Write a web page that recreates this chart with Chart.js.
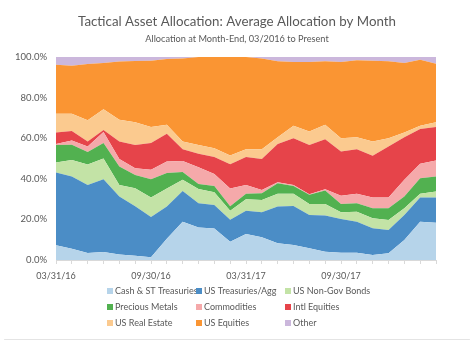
<!DOCTYPE html>
<html>
<head>
<meta charset="utf-8">
<script src="https://cdn.jsdelivr.net/npm/chart.js@4.4.1/dist/chart.umd.min.js"></script>
<style>
  html, body { margin: 0; padding: 0; background: #fff; }
  #wrap { position: relative; width: 474px; height: 345px; }
  #edge { position: absolute; left: 4px; right: 4px; top: 339px; height: 1px; background: #e4e4e4; border-radius: 1px; }
</style>
</head>
<body>
<div id="wrap">
  <canvas id="myChart" width="474" height="345"></canvas>
  <div id="edge"></div>
</div>
<script>
// month-end dates, 03/2016 .. 03/2018
var months = ['03/31/16','04/30/16','05/31/16','06/30/16','07/31/16','08/31/16','09/30/16','10/31/16','11/30/16','12/31/16',
              '01/31/17','02/28/17','03/31/17','04/30/17','05/31/17','06/30/17','07/31/17','08/31/17','09/30/17','10/31/17',
              '11/30/17','12/31/17','01/31/18','02/28/18','03/31/18'];
var shownTicks = ['03/31/16','09/30/16','03/31/17','09/30/17'];

// allocation in % per month
var cash       = [7.3, 5.6, 3.5, 3.9, 2.7, 2.1, 1.4, 10.5, 18.9, 16.0, 15.5, 9.0, 12.8, 11.2, 8.2, 7.4, 5.8, 4.1, 3.6, 3.6, 2.5, 3.3, 9.9, 18.9, 18.4];
var treasuries = [35.8, 35.5, 33.5, 35.9, 28.6, 24.4, 19.8, 15.8, 15.1, 12.0, 11.6, 10.8, 11.5, 12.3, 18.1, 19.2, 16.4, 17.8, 16.6, 15.3, 13.1, 11.5, 12.3, 11.9, 12.4];
var nonGov     = [4.9, 8.2, 10.0, 10.2, 5.7, 8.9, 9.6, 8.9, 5.5, 7.0, 6.3, 4.4, 5.6, 6.1, 6.3, 6.0, 5.4, 5.7, 3.3, 4.9, 5.0, 4.9, 3.3, 1.8, 2.9];
var metals     = [8.6, 7.5, 6.2, 7.6, 9.0, 6.5, 9.0, 7.6, 3.8, 2.5, 3.1, 2.3, 2.7, 3.3, 5.2, 3.9, 4.5, 6.6, 4.1, 4.2, 4.9, 5.8, 5.8, 7.7, 7.4];
var commod     = [0.6, 2.1, 2.7, 5.4, 3.7, 3.3, 4.6, 5.7, 5.5, 8.2, 5.9, 8.7, 4.4, 1.6, 0.5, 0.5, 0.3, 0.6, 4.0, 4.6, 5.3, 5.3, 8.2, 7.1, 7.9];
var intlEq     = [5.6, 4.7, 2.5, 1.1, 8.7, 11.5, 13.2, 13.7, 5.8, 6.6, 8.3, 12.0, 13.7, 15.2, 18.9, 23.0, 24.3, 24.7, 21.9, 22.0, 20.5, 25.1, 21.0, 17.1, 16.5];
var realEstate = [9.2, 8.4, 10.4, 10.2, 10.7, 11.1, 7.9, 4.4, 3.8, 4.4, 4.4, 4.3, 3.9, 4.9, 3.3, 6.1, 6.6, 7.1, 6.5, 5.9, 7.1, 4.1, 2.3, 1.6, 2.3];
var usEq       = [24.2, 23.7, 27.7, 22.7, 28.7, 30.2, 32.7, 32.4, 40.8, 43.3, 44.9, 48.5, 45.4, 44.6, 37.4, 31.4, 34.2, 31.3, 37.5, 37.9, 39.8, 37.9, 34.2, 32.6, 28.9];
var other      = [3.8, 4.3, 3.5, 3.0, 2.2, 2.0, 1.8, 1.0, 0.8, 0.0, 0.0, 0.0, 0.0, 0.8, 2.1, 2.5, 2.5, 2.1, 2.5, 1.6, 1.8, 2.1, 3.0, 1.3, 3.3];

var names  = ['Cash & ST Treasuries','US Treasuries/Agg','US Non-Gov Bonds','Precious Metals','Commodities','Intl Equities','US Real Estate','US Equities','Other'];
var series = [cash, treasuries, nonGov, metals, commod, intlEq, realEstate, usEq, other];
var colors = ['#b6d4ea','#4b8dc6','#c3e3a6','#52b150','#f5a9aa','#e6444a','#fbca8f','#fa9533','#cbb7dc'];

var textColor = '#595959';
var fontName = 'Lato, "Open Sans", sans-serif';

var datasets = [];
for (var i = 0; i < series.length; i++) {
    datasets.push({
        label: names[i],
        data: series[i],
        backgroundColor: colors[i],
        borderColor: colors[i],
        borderWidth: 0,
        pointRadius: 0,
        pointHoverRadius: 0,
        tension: 0,
        fill: i == 0 ? 'origin' : '-1'
    });
}

// legend laid out as a 3-column grid under the axis
var gridLegend = {
    id: 'gridLegend',
    afterDraw: function(chart) {
        var ctx = chart.ctx;
        var cols = [107, 196, 285];
        var rows = [291, 307, 323];
        ctx.save();
        ctx.font = '9px ' + fontName;
        ctx.textBaseline = 'middle';
        for (var i = 0; i < names.length; i++) {
            var x = cols[i % 3];
            var y = rows[Math.floor(i / 3)];
            ctx.fillStyle = colors[i];
            ctx.fillRect(x, y - 3, 6, 6);
            ctx.fillStyle = textColor;
            ctx.fillText(names[i], x + 8, y + 0.5);
        }
        ctx.restore();
    }
};

var ctx = document.getElementById('myChart').getContext('2d');
var chart = new Chart(ctx, {
    type: 'line',
    data: { labels: months, datasets: datasets },
    plugins: [gridLegend],
    options: {
        responsive: false,
        animation: false,
        events: [],
        layout: { padding: 0 },
        plugins: {
            legend: { display: false },
            tooltip: { enabled: false },
            title: {
                display: true,
                text: 'Tactical Asset Allocation: Average Allocation by Month',
                color: textColor,
                font: { family: fontName, size: 13.3, weight: 'normal' },
                padding: { top: 14, bottom: 0 }
            },
            subtitle: {
                display: true,
                text: 'Allocation at Month-End, 03/2016 to Present',
                color: textColor,
                font: { family: fontName, size: 9.2 },
                padding: { top: 4, bottom: 12 }
            }
        },
        scales: {
            x: {
                offset: false,
                grid: { drawOnChartArea: false, drawTicks: true, tickLength: 4, color: '#d9d9d9' },
                border: { color: '#d9d9d9' },
                ticks: {
                    autoSkip: false,
                    maxRotation: 0,
                    padding: 7,
                    color: textColor,
                    font: { family: fontName, size: 9 },
                    callback: function(val, idx) {
                        var lab = months[idx];
                        return shownTicks.indexOf(lab) >= 0 ? lab : '';
                    }
                },
                afterFit: function(scale) { scale.height = 85; }
            },
            y: {
                stacked: true,
                min: 0,
                max: 100,
                grid: { drawOnChartArea: false, drawTicks: false },
                border: { display: false },
                ticks: {
                    stepSize: 20,
                    padding: 9,
                    color: textColor,
                    font: { family: fontName, size: 9.5 },
                    callback: function(v) { return v.toFixed(1) + '%'; }
                },
                afterFit: function(scale) { scale.width = 56; }
            },
            // empty strip on the right so the titles stay centred on the page
            yRight: {
                position: 'right',
                grid: { display: false },
                border: { display: false },
                ticks: { display: false },
                afterFit: function(scale) { scale.width = 38; }
            }
        }
    }
});
</script>
</body>
</html>
